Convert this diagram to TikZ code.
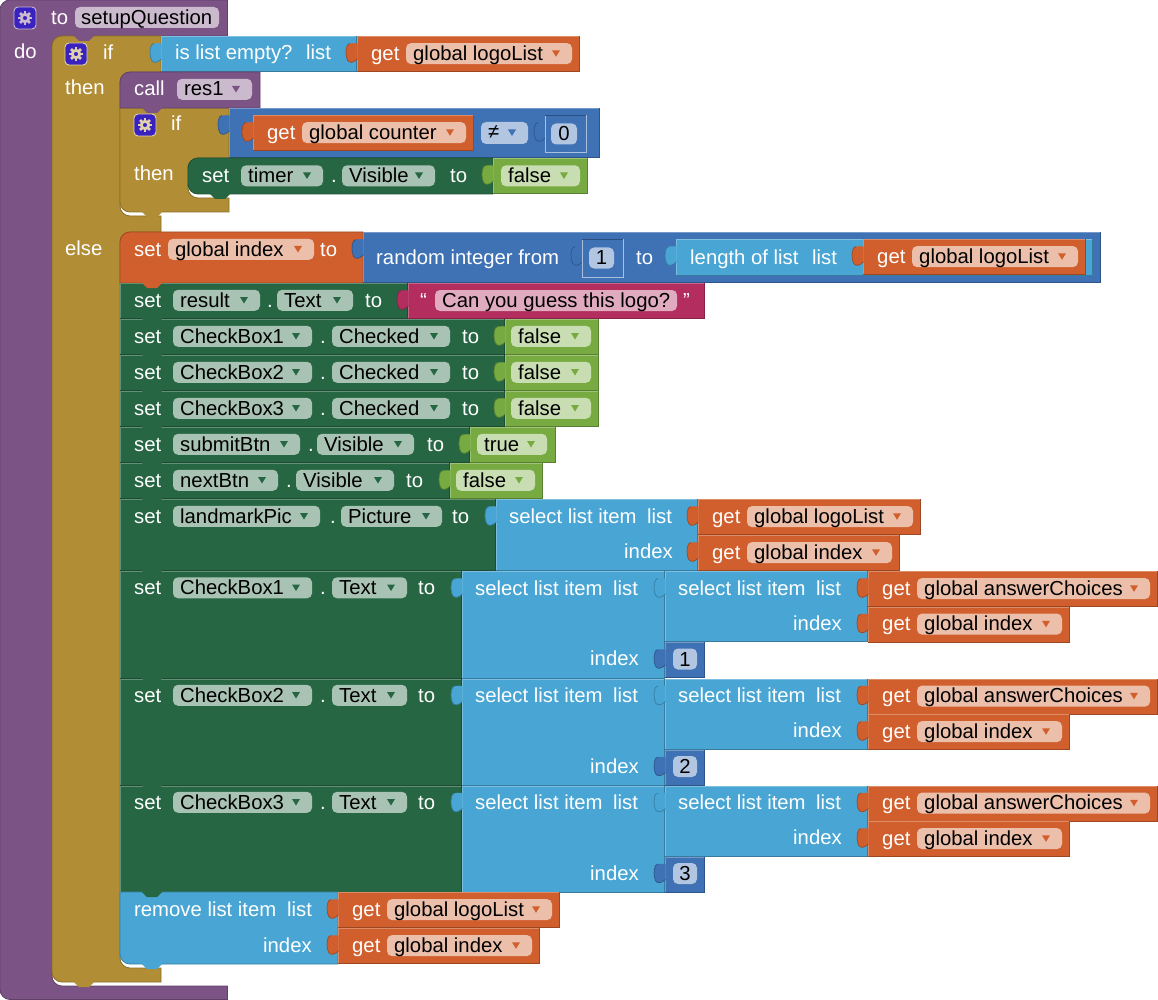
\documentclass[tikz,border=0pt]{standalone}
\usepackage{fontspec}
\setmainfont{Liberation Sans}
\definecolor{purp}{HTML}{7C5385}\definecolor{purpL}{HTML}{CBBACE}
\definecolor{gold}{HTML}{B18E35}\definecolor{goldL}{HTML}{E0D2AE}
\definecolor{lblue}{HTML}{49A6D4}
\definecolor{orng}{HTML}{D05F2D}\definecolor{orngL}{HTML}{ECBFAB}
\definecolor{dblue}{HTML}{3F71B5}\definecolor{dblueL}{HTML}{B2C6E1}
\definecolor{grn}{HTML}{266643}\definecolor{grnL}{HTML}{A8C2B4}
\definecolor{lgrn}{HTML}{77AB41}\definecolor{lgrnL}{HTML}{C9DDB3}
\definecolor{mag}{HTML}{B32D5E}\definecolor{magL}{HTML}{E1ABBF}
\definecolor{indigo}{HTML}{3A22C0}
\newcounter{tc}
\tikzset{
  lbl/.style={anchor=base west,inner sep=0pt,text=white,font=\fontsize{20.3}{24}\selectfont},
  fieldtext/.style={anchor=base west,inner sep=0pt,text=black,font=\fontsize{20.3}{24}\selectfont},
  numtext/.style={anchor=base,inner sep=0pt,text=black,font=\fontsize{20.3}{24}\selectfont},
  rc/.style={rounded corners=10pt},
  edge/.style={line width=.8pt,draw=#1!78!black}
}
% white label: x, row centre, text
\newcommand\tx[3]{\stepcounter{tc}\node[lbl] (t\arabic{tc}) at (#1,#2+7) {#3};}
% plain block with bevel
\newcommand\bx[5]{%
  \fill[#1] (#2,#3) rectangle (#4,#5);
  \draw[line width=.9pt,#1!72!white] (#2+.5,#5) -- (#2+.5,#3+.5) -- (#4,#3+.5);
  \draw[line width=.9pt,#1!75!black] (#2,#5-.5) -- (#4-.5,#5-.5) -- (#4-.5,#3);}
% puzzle knob: colour, x, block top
\newcommand\knob[3]{%
  \fill[#1] (#2+.5,#3+7.5) .. controls (#2-3,#3+7) and (#2-8,#3+7) .. (#2-9.5,#3+9)
    .. controls (#2-11.5,#3+13) and (#2-11.5,#3+20) .. (#2-9.5,#3+24)
    .. controls (#2-7.5,#3+27.5) and (#2-4,#3+27) .. (#2+.5,#3+23) -- cycle;
  \draw[#1!75!black,line width=.7pt] (#2-7,#3+7.5) .. controls (#2-8,#3+7.5) and (#2-8.8,#3+8) .. (#2-9.5,#3+9)
    .. controls (#2-11.5,#3+13) and (#2-11.5,#3+20) .. (#2-9.5,#3+24)
    .. controls (#2-7.5,#3+27.5) and (#2-4,#3+27) .. (#2+.5,#3+23);}
% statement tab: colour, block x, block bottom
\newcommand\vtab[3]{\fill[#1] (#2+22,#3-1) -- (#2+22,#3) -- (#2+27,#3+5) -- (#2+37,#3+5) -- (#2+42,#3) -- (#2+42,#3-1) -- cycle;}
% dropdown pill: base colour, x1, x2, centre y, text
\newcommand\pl[5]{%
  \fill[#1L,rounded corners=5pt] (#2,#4-10.2) rectangle (#3,#4+10.8);
  \stepcounter{tc}\node[fieldtext] (t\arabic{tc}) at (#2+7,#4+7) {#5};
  \fill[#1] (#3-20,#4-3) -- (#3-12,#4-3) -- (#3-16,#4+3.5) -- cycle;}
% number pill
\newcommand\np[4]{%
  \fill[dblueL,rounded corners=5pt] (#1,#3-10.5) rectangle (#2,#3+10.5);
  \stepcounter{tc}\node[numtext] (t\arabic{tc}) at ({(#1+#2)/2},#3+7) {#4};}
% get block: x1,x2,top,name
\newcommand\getb[4]{%
  \bx{orng}{#1}{#3}{#2}{#3+36}\knob{orng}{#1}{#3}
  \tx{#1+14}{#3+17.3}{get}\pl{orng}{#1+49}{#2-8}{#3+17.3}{#4}}
% gear: x1,y1,gearcolour
\newcommand\gear[3]{%
  \fill[indigo,draw=#3,line width=.9pt,rounded corners=4pt] (#1,#2) rectangle (#1+22,#2+22);
  \foreach \a in {0,45,...,315}{\draw[#3,line width=2.8pt] ($(#1+11,#2+11)+(\a:3)$) -- ($(#1+11,#2+11)+(\a:7)$);}
  \draw[#3,line width=2.8pt] (#1+11,#2+11) circle (3.7);}
% number block: x1,y1,x2,y2
\newcommand\numbx[4]{%
  \draw[line width=.8pt,dblue!45!white] (#1,#2) -- (#1,#4) -- (#3,#4) -- (#3,#2);
  \draw[line width=.8pt,dblue!70!black] (#1,#2) -- (#3,#2);}
% select list item labels: x,top,unused,index y
\newcommand\sel[4]{%
  \tx{#1+13}{#2+17}{select list item}\tx{#1+151}{#2+17}{list}\tx{#1+128}{#4}{index}}
% CheckBox text row
\newcommand\cbrow[3]{% top, n, value
  \bx{grn}{120}{#1}{462}{#1+107.5}
  \tx{134}{#1+16.5}{set}\pl{grn}{173}{312}{#1+16.5}{CheckBox#2}\tx{320}{#1+16.5}{.}
  \pl{grn}{332}{407}{#1+16.5}{Text}\tx{418}{#1+16.5}{to}
  \bx{lblue}{462}{#1}{665}{#1+107.5}\knob{lblue}{462}{#1}
  \sel{462}{#1}{0}{#1+87.5}
  \bx{lblue}{665}{#1}{868}{#1+71}\knob{lblue}{665}{#1}
  \sel{665}{#1}{0}{#1+52}
  \getb{868}{1158}{#1}{global answerChoices}
  \getb{868}{1070}{#1+35.5}{global index}
  \bx{dblue}{665}{#1+71}{705}{#1+107}\knob{dblue}{665}{#1+71}
  \np{673}{697}{#1+88}{#3}}
% set ... Checked row
\newcommand\chkrow[2]{% top, n
  \bx{grn}{120}{#1}{505}{#1+36}
  \tx{134}{#1+17}{set}\pl{grn}{173}{312}{#1+17}{CheckBox#2}\tx{320}{#1+17}{.}
  \pl{grn}{332}{450}{#1+17}{Checked}\tx{462}{#1+17}{to}
  \bx{lgrn}{505}{#1}{599}{#1+36}\knob{lgrn}{505}{#1}
  \pl{lgrn}{511}{591}{#1+17}{false}}
\usetikzlibrary{calc}
\begin{document}
\begin{tikzpicture}[x=1pt,y=-1pt]
\useasboundingbox (0,0) rectangle (1158,1000);
% procedure
\path[fill=purp,edge=purp] (0,500) [rc] -- (0,0) [sharp corners] -- (227.5,0) -- (227.5,36) [rc] -- (52,36) -- (52,986) [sharp corners] -- (227.5,986) -- (227.5,999.5) [rc] -- (0,999.5) -- cycle;
\gear{14}{7}{purpL}
\tx{51}{17.5}{to}
\fill[purpL,rounded corners=5pt] (75,7) rectangle (219,28);
\stepcounter{tc}\node[fieldtext] (t\arabic{tc}) at (81,24.5) {setupQuestion};
\tx{14}{52}{do}
% outer if
\path[fill=gold,edge=gold] (52,500) [rc] -- (52,36) [sharp corners] -- (161,36) -- (161,72) [rc] -- (120,72) -- (120,216) [sharp corners] -- (161,216) -- (161,232) [rc] -- (120,232) -- (120,968) [sharp corners] -- (161,968) -- (161,982) [rc] -- (52,982) -- cycle;
\gear{65}{43}{goldL}
\tx{103}{53}{if}
\tx{65}{88}{then}
\tx{65}{248}{else}
\bx{lblue}{161}{36}{357}{72}\knob{lblue}{161}{36}
\tx{175}{53}{is list empty?}\tx{306}{53}{list}
\getb{357}{580}{36}{global logoList}
% inner if
\path[fill=gold,edge=gold] (120,108) -- (229,108) -- (229,158) [rc] -- (188,158) -- (188,198) [sharp corners] -- (229,198) -- (229,212) [rc] -- (120,212) [sharp corners] -- cycle;
\gear{134}{114}{goldL}
\tx{171}{124}{if}
\tx{134}{174}{then}
% call
\path[fill=purp,edge=purp] (120,108) [rc] -- (120,72) [sharp corners] -- (260,72) -- (260,108) -- cycle;
\tx{134}{89}{call}\pl{purp}{177}{252}{89}{res1}
% compare
\bx{dblue}{229}{108}{600}{158}\knob{dblue}{229}{108}
\getb{253}{474}{115}{global counter}
\fill[dblueL,rounded corners=5pt] (481,122) rectangle (528,144);
\stepcounter{tc}\node[fieldtext] (t\arabic{tc}) at (488,139) {≠};
\fill[dblue] (508,129.5) -- (516,129.5) -- (512,136) -- cycle;
\knob{dblue}{545}{115}
\numbx{545}{115}{586}{152}
\np{551}{577}{134}{0}
% set timer
\path[fill=grn,edge=grn] (188,176) [rc] -- (188,158) [sharp corners] -- (493,158) -- (493,194) [rc] -- (188,194) -- cycle;
\tx{202}{175.5}{set}\pl{grn}{241}{323}{175.5}{timer}\tx{331}{175.5}{.}
\pl{grn}{342}{435}{175.5}{Visible}\tx{450}{175.5}{to}
\bx{lgrn}{493}{158}{588}{194}\knob{lgrn}{493}{158}
\pl{lgrn}{501}{580}{175.5}{false}
% set global index
\path[fill=orng,edge=orng] (120,283) [rc] -- (120,232) [sharp corners] -- (363,232) -- (363,283) -- cycle;
\tx{134}{249}{set}\pl{orng}{168}{314}{249}{global index}\tx{320}{249}{to}
\bx{dblue}{363}{232}{1101}{283}\knob{dblue}{363}{232}
\tx{376}{257}{random integer from}
\knob{dblue}{582}{239}
\numbx{582}{239}{623}{277}
\np{589}{614}{258}{1}
\tx{636}{257}{to}
\bx{lblue}{676}{239}{1093}{276}\knob{lblue}{676}{239}
\tx{690}{257}{length of list}\tx{812}{257}{list}
\getb{863}{1086}{239}{global logoList}
% set result
\bx{grn}{120}{283}{408}{319}
\tx{134}{300}{set}\pl{grn}{173}{260}{300}{result}\tx{267}{300}{.}
\pl{grn}{277}{353}{300}{Text}\tx{365}{300}{to}
\bx{mag}{408}{283}{705}{319}\knob{mag}{408}{283}
\tx{420}{300}{“}\fill[magL,rounded corners=5pt] (435,290) rectangle (677,311);
\stepcounter{tc}\node[fieldtext] (t\arabic{tc}) at (442,307) {Can you guess this logo?};
\tx{683}{300}{”}
% checked rows
\chkrow{319}{1}\chkrow{355}{2}\chkrow{391}{3}
% submit
\bx{grn}{120}{427}{470}{463}
\tx{134}{444}{set}\pl{grn}{173}{300}{444}{submitBtn}\tx{308}{444}{.}
\pl{grn}{317}{414}{444}{Visible}\tx{427}{444}{to}
\bx{lgrn}{470}{427}{556}{463}\knob{lgrn}{470}{427}
\pl{lgrn}{477}{547}{444}{true}
% next
\bx{grn}{120}{463}{450}{499}
\tx{134}{480}{set}\pl{grn}{173}{278}{480}{nextBtn}\tx{286}{480}{.}
\pl{grn}{296}{394}{480}{Visible}\tx{406}{480}{to}
\bx{lgrn}{450}{463}{543}{499}\knob{lgrn}{450}{463}
\pl{lgrn}{456}{535}{480}{false}
% landmark
\bx{grn}{120}{499}{496}{571}
\tx{134}{516}{set}\pl{grn}{173}{320}{516}{landmarkPic}\tx{330}{516}{.}
\pl{grn}{341}{442}{516}{Picture}\tx{452}{516}{to}
\bx{lblue}{496}{499}{698}{571}\knob{lblue}{496}{499}
\tx{509}{516}{select list item}\tx{647}{516}{list}\tx{624}{551}{index}
\getb{698}{921}{499}{global logoList}
\getb{698}{900}{535}{global index}
% text rows
\cbrow{571}{1}{1}\cbrow{678.5}{2}{2}\cbrow{785.5}{3}{3}
% remove
\path[fill=lblue,edge=lblue] (120,892) -- (338,892) -- (338,964) [rc] -- (120,964) [sharp corners] -- cycle;
\tx{134}{909.5}{remove list item}\tx{287}{909.5}{list}\tx{263}{945.5}{index}
\getb{338}{560}{892}{global logoList}
\getb{338}{540}{928}{global index}
% statement tabs
\vtab{purp}{52}{36}
\vtab{gold}{52}{982}
\vtab{purp}{120}{108}
\vtab{gold}{120}{212}
\vtab{grn}{188}{194}
\vtab{orng}{120}{283}
\foreach \yy in {319,355,391,427,463,499,571,678.5,785.5,892}{\vtab{grn}{120}{\yy}}
\vtab{lblue}{120}{964}
\end{tikzpicture}
\end{document}
